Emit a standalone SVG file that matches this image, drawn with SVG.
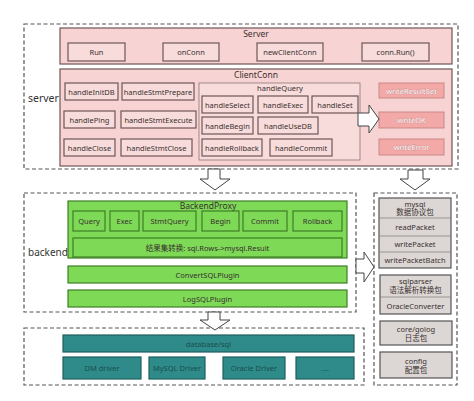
<svg xmlns="http://www.w3.org/2000/svg" width="474" height="401" viewBox="0 0 474 401">
<style>
text{font-family:"Noto Sans","Noto Sans CJK SC",sans-serif;font-size:7.5px;text-anchor:middle;dominant-baseline:central;fill:#3a2f2f}
.dash{fill:none;stroke:#555;stroke-width:1.2;stroke-dasharray:4,2.5}
.pk{fill:#f7d4d3;stroke:#6e5656;stroke-width:1.2}
.pb{fill:#f8dcdb;stroke:#6e5656;stroke-width:1.2}
.pd{fill:#f3a9a8;stroke:#c98886;stroke-width:1}
.wt{fill:#fff;stroke:#9a6e6e;stroke-width:0.3;paint-order:stroke}
.gr{fill:#7ed957;stroke:#3e7d26;stroke-width:1.2}
.tl{fill:#2e8b89;stroke:#1f5f5e;stroke-width:1.2}
.tt{fill:#1b4f4e}
.gy{fill:#dcd7d5;stroke:#555;stroke-width:1.2}
.gs{fill:none;stroke:#8a8280;stroke-width:0.8}
.lbl{font-size:10.5px;text-anchor:start;fill:#333}
.ttl{font-size:8.5px}
.arr{fill:#fff;stroke:#444;stroke-width:1}
</style>
<rect width="474" height="401" fill="#fff"/>

<g id="server">
<rect class="dash" x="24" y="24" width="434" height="145"/>
<text class="lbl" x="28" y="98">server</text>
</g>
<g id="Server">
<rect class="pk" x="60" y="28" width="392" height="36"/>
<text class="ttl" x="256" y="33">Server</text>
<rect class="pb" x="68" y="43" width="57" height="18"/><text x="96.5" y="52">Run</text>
<rect class="pb" x="163" y="43" width="56" height="18"/><text x="191" y="52">onConn</text>
<rect class="pb" x="257" y="43" width="66" height="18"/><text x="290" y="52">newClientConn</text>
<rect class="pb" x="362" y="43" width="67" height="18"/><text x="395.5" y="52">conn.Run()</text>
</g>
<g id="ClientConn">
<rect class="pk" x="60" y="69" width="392" height="97"/>
<text class="ttl" x="256" y="74">ClientConn</text>
<rect class="pb" x="65" y="83" width="53" height="17"/><text x="91.5" y="91.5">handleInitDB</text>
<rect class="pb" x="122" y="83" width="72" height="17"/><text x="158" y="91.5">handleStmtPrepare</text>
<rect class="pb" x="64" y="111" width="51" height="17"/><text x="89.5" y="119.5">handlePing</text>
<rect class="pb" x="121" y="111" width="75" height="17"/><text x="158.5" y="119.5">handleStmtExecute</text>
<rect class="pb" x="64" y="139" width="51" height="17"/><text x="89.5" y="147.5">handleClose</text>
<rect class="pb" x="121" y="139" width="71" height="17"/><text x="156.5" y="147.5">handleStmtClose</text>
</g>
<g id="handleQuery">
<rect fill="#f8dcdb" stroke="#8a7474" stroke-width="0.8" x="199" y="83" width="161" height="77"/>
<text x="280" y="88">handleQuery</text>
<rect class="pb" x="202" y="96" width="51" height="17"/><text x="227.5" y="104.5">handleSelect</text>
<rect class="pb" x="258" y="96" width="50" height="17"/><text x="283" y="104.5">handleExec</text>
<rect class="pb" x="312" y="96" width="46" height="17"/><text x="335" y="104.5">handleSet</text>
<rect class="pb" x="202" y="117" width="51" height="17"/><text x="227.5" y="125.5">handleBegin</text>
<rect class="pb" x="258" y="117" width="60" height="17"/><text x="288" y="125.5">handleUseDB</text>
<rect class="pb" x="202" y="139" width="60" height="17"/><text x="232" y="147.5">handleRollback</text>
<rect class="pb" x="270" y="139" width="62" height="17"/><text x="301" y="147.5">handleCommit</text>
</g>
<g id="writers">
<rect class="pd" x="379" y="83" width="65" height="15"/><text class="wt" x="411.5" y="90.5">writeResultSet</text>
<rect class="pd" x="379" y="112" width="65" height="16"/><text class="wt" x="411.5" y="120">writeOK</text>
<rect class="pd" x="379" y="139" width="65" height="16"/><text class="wt" x="411.5" y="147">writeError</text>
</g>

<g id="backend">
<rect class="dash" x="24" y="193" width="332" height="119"/>
<text class="lbl" x="28" y="252" style="font-size:10px">backend</text>
</g>
<g id="BackendProxy">
<rect class="gr" x="68" y="201" width="279" height="57"/>
<text class="ttl" x="208" y="205.5">BackendProxy</text>
<rect class="gr" x="73" y="211" width="32" height="20"/><text x="89" y="221">Query</text>
<rect class="gr" x="110" y="211" width="29" height="20"/><text x="124.5" y="221">Exec</text>
<rect class="gr" x="143" y="211" width="53" height="20"/><text x="169.5" y="221">StmtQuery</text>
<rect class="gr" x="202" y="211" width="37" height="20"/><text x="220.5" y="221">Begin</text>
<rect class="gr" x="243" y="211" width="44" height="20"/><text x="265" y="221">Commit</text>
<rect class="gr" x="293" y="211" width="49" height="20"/><text x="317.5" y="221">Rollback</text>
<rect class="gr" x="73" y="238" width="269" height="19"/><text x="207.5" y="247.5">结果集转换: sql.Rows-&gt;mysql.Result</text>
</g>
<g id="ConvertSQLPlugin">
<rect class="gr" x="68" y="266" width="279" height="17"/><text x="207.5" y="274.5">ConvertSQLPlugin</text>
</g>
<g id="LogSQLPlugin">
<rect class="gr" x="68" y="290" width="279" height="17"/><text x="207.5" y="298.5">LogSQLPlugin</text>
</g>

<g id="database">
<rect class="dash" x="24" y="328" width="340" height="57"/>
<rect class="tl" x="63" y="335" width="291" height="17"/><text class="tt" x="208.5" y="343.5">database/sql</text>
<rect class="tl" x="63" y="357" width="78" height="22"/><text class="tt" x="102" y="368">DM driver</text>
<rect class="tl" x="149" y="357" width="56" height="22"/><text class="tt" x="177" y="368">MySQL Driver</text>
<rect class="tl" x="223" y="357" width="62" height="22"/><text class="tt" x="254" y="368">Oracle Driver</text>
<rect class="tl" x="296" y="357" width="58" height="22"/><text class="tt" x="325" y="368">....</text>
</g>

<g id="libs">
<rect class="dash" x="374" y="193" width="83" height="192"/>
</g>
<g id="mysql">
<rect class="gy" x="379" y="198" width="72" height="70"/>
<line class="gs" x1="379" y1="218" x2="451" y2="218"/>
<line class="gs" x1="379" y1="236" x2="451" y2="236"/>
<line class="gs" x1="379" y1="252" x2="451" y2="252"/>
<text x="415" y="203.5">mysql</text>
<text x="415" y="212">数据协议包</text>
<text x="415" y="227">readPacket</text>
<text x="415" y="244">writePacket</text>
<text x="415" y="260">writePacketBatch</text>
</g>
<g id="sqlparser">
<rect class="gy" x="380" y="275" width="71" height="39"/>
<line class="gs" x1="380" y1="297" x2="451" y2="297"/>
<text x="415.5" y="280.5">sqlparser</text>
<text x="415.5" y="289.5">语法解析转换包</text>
<text x="415.5" y="305.5">OracleConverter</text>
</g>
<g id="golog">
<rect class="gy" x="380" y="321" width="72" height="24"/>
<text x="416" y="329">core/golog</text>
<text x="416" y="338">日志包</text>
</g>
<g id="config">
<rect class="gy" x="380" y="352" width="72" height="26"/>
<text x="416" y="361">config</text>
<text x="416" y="370">配置包</text>
</g>

<g id="connectors">
<polygon class="arr" points="358,113 369,113 369,105 379,119 369,133 369,126 358,126"/>
<polygon class="arr" points="208,169 220,169 220,179 230,179 215,190 200,179 208,179"/>
<polygon class="arr" points="408,170 423,170 423,179 430,179 415,190 400,179 408,179"/>
<polygon class="arr" points="356,259 364,259 364,252 374,267 364,282 364,273 356,273"/>
<polygon class="arr" points="208,312 220,312 220,320 230,320 215,330 200,320 208,320"/>
</g>
</svg>
